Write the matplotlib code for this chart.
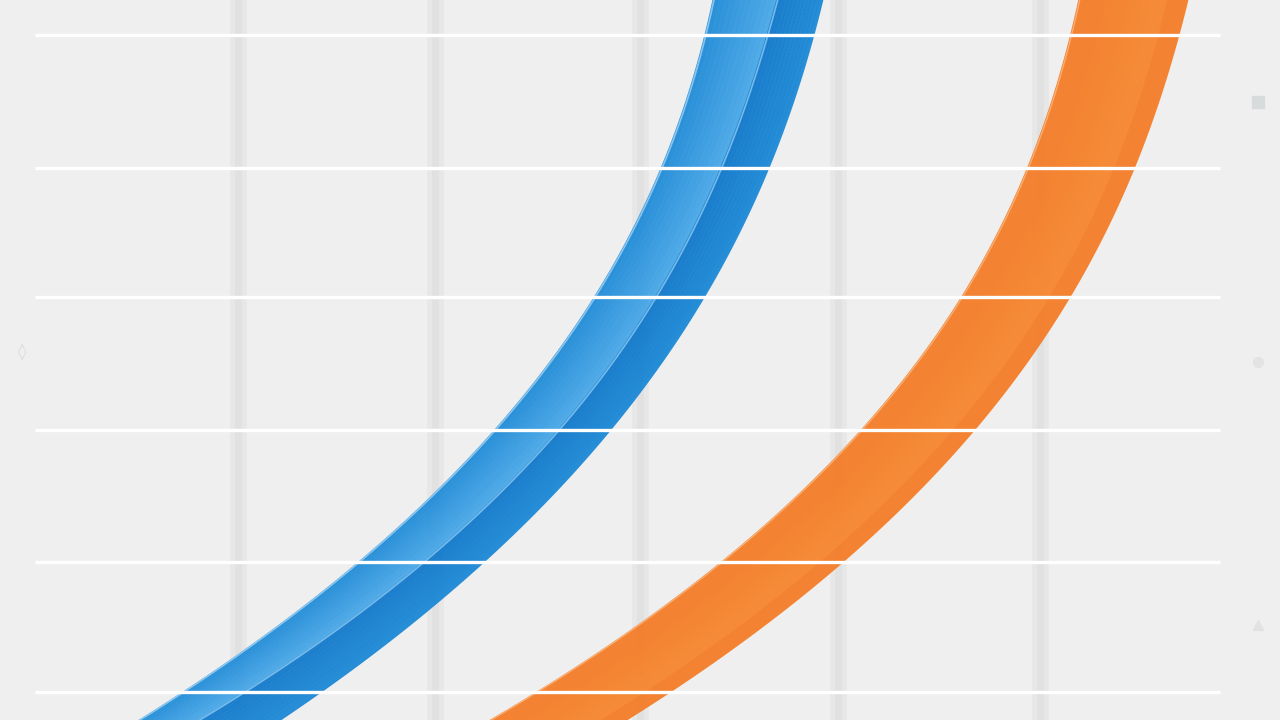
import numpy as np
import matplotlib
matplotlib.use("Agg")
import matplotlib.pyplot as plt

# Row levels (vertical positions of the white guide lines, plus the frame edges)
levels = [0, 35, 168, 297, 430, 562, 692, 720]
# Blue band: left edge, inner split, right edge at each level
blue_left = [712, 705, 660, 595, 492, 360, 180, 140]
blue_mid = [776, 766, 722, 655, 553, 428, 240, 200]
blue_right = [822, 815, 768, 705, 610, 485, 320, 282]
# Orange band: left edge, right edge at each level
orange_left = [1078, 1070, 1028, 960, 860, 722, 535, 490]
orange_right = [1188, 1180, 1135, 1070, 975, 845, 668, 630]

# Guides
vgrid = [238, 435, 640, 838, 1040]
hgrid = [35, 168, 297, 430, 562, 692]

BG = "#efefef"

yy = np.linspace(-5, 725, 400)


def curve(vals):
    # smooth cubic path through the read points (drawing only)
    c = np.polyfit(levels, vals, 3)
    return np.polyval(c, yy)


fig = plt.figure(figsize=(12.8, 7.2), dpi=100)
fig.patch.set_facecolor(BG)
ax = fig.add_axes([0, 0, 1, 1])
ax.set_facecolor(BG)
ax.set_xlim(0, 1280)
ax.set_ylim(720, 0)
ax.axis("off")

for x in vgrid:
    ax.axvline(x, color="#e7e7e7", lw=12, zorder=1)
    ax.axvline(x, color="#e1e1e1", lw=5, zorder=1)

bl, bm, br = curve(blue_left), curve(blue_mid), curve(blue_right)
ol, orr = curve(orange_left), curve(orange_right)


def gradient_band(left, right, c0, c1, steps=12, alpha=0.92):
    c0 = np.array(matplotlib.colors.to_rgb(c0))
    c1 = np.array(matplotlib.colors.to_rgb(c1))
    for i in range(steps):
        f0, f1 = i / steps, (i + 1) / steps
        t = (f0 + f1) / 2
        col = c0 * (1 - t) + c1 * t
        ax.fill_betweenx(yy, left + (right - left) * f0, left + (right - left) * f1 + 0.6,
                         color=col, alpha=alpha, lw=0, zorder=2)


gradient_band(bl, bm, "#1a88d6", "#45a6e8")
gradient_band(bm, br, "#0a75c9", "#1686d6")
ax.plot(bl + 1.5, yy, color="#9fd3f5", lw=1.2, alpha=0.8, zorder=3)
ax.plot(bm + 1.5, yy, color="#8ccaf2", lw=1.2, alpha=0.8, zorder=3)

ax.fill_betweenx(yy, ol, orr, color="#f47c26", alpha=0.94, lw=0, zorder=2)
gradient_band(ol + (orr - ol) * 0.25, ol + (orr - ol) * 0.8, "#f58430", "#f8923f", steps=8, alpha=0.6)
ax.plot(ol + 1.5, yy, color="#fbc08c", lw=1.0, alpha=0.7, zorder=3)

for y in hgrid:
    ax.plot([35, 1220], [y, y], color="white", lw=2.4, zorder=4, solid_capstyle="butt")

# faint edge marks
ax.text(22, 352, "◊", color="#dadada", fontsize=12, ha="center", va="center", zorder=5)
ax.plot([1258], [102], marker="s", ms=9, color="#d8dbdb", zorder=5)
ax.plot([1258], [362], marker="o", ms=7, color="#e3e3e3", zorder=5)
ax.plot([1258], [625], marker="^", ms=7, color="#e2e2e2", zorder=5)

fig.savefig("out.png", dpi=100, facecolor=BG)
